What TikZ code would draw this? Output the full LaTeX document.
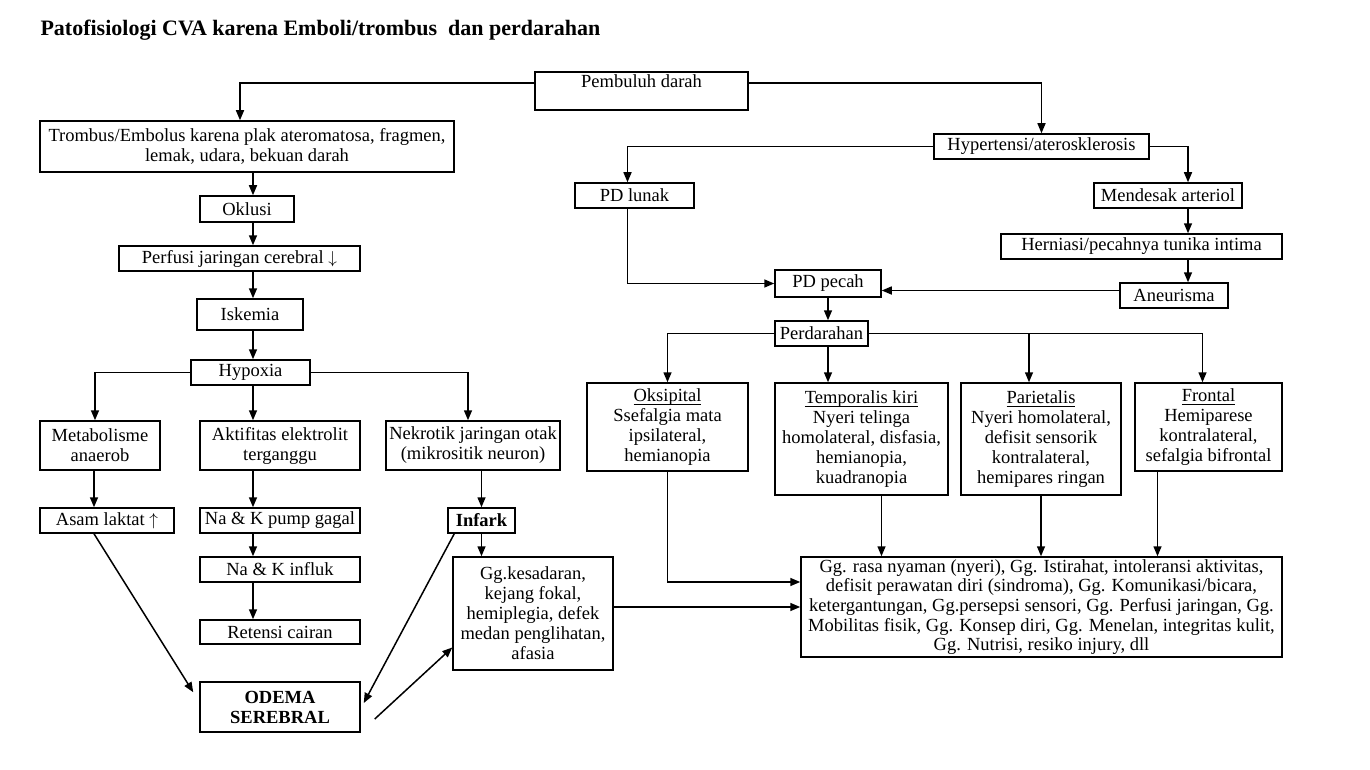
\documentclass[tikz,border=0pt]{standalone}
\usepackage{amsmath, amssymb}
\usepackage{fontspec}
\setmainfont{Liberation Serif}
\usepackage{xcolor}
\usepackage{tikz}
\usetikzlibrary{arrows.meta}
\newcommand{\subjudul}[1]{\underline{\smash{#1}}\vphantom{#1}}

\begin{document}
\begin{tikzpicture}[x=1pt, y=-1pt,
  font=\fontsize{18.5}{20}\selectfont,
  box/.style={draw, line width=1.5pt, inner sep=0pt, align=center},
  arr/.style={line width=1.5pt, -{Triangle[length=10pt,width=8pt]}}]
\useasboundingbox (0,0) rectangle (1370,770);

% Title
\node[anchor=west, font=\fontsize{22}{24}\selectfont\bfseries] (title) at (37,30)
  {Patofisiologi CVA karena Emboli/trombus\ \ dan perdarahan};

% Top
\node[box, minimum width=213, minimum height=38] (pembuluh) at (641.5,91) {Pembuluh darah\\\mbox{}};

% Emboli / trombus side
\coordinate (spine) at (253,0);
\node[box, minimum width=414, minimum height=51] (trombus) at (247,146.5)
  {Trombus/Embolus karena plak ateromatosa,\ fragmen,\\lemak, udara, bekuan darah};
\node[box, minimum width=94, minimum height=26] (oklusi) at (247,209) {Oklusi};
\node[box, minimum width=241, minimum height=25] (perfusi) at (239.5,258.5) {Perfusi jaringan cerebral $\downarrow$};
\node[box, minimum width=106, minimum height=31] (iskemia) at (250,314.5) {Iskemia};
\node[box, minimum width=119, minimum height=25] (hypoxia) at (250.5,372.5) {Hypoxia};
\node[box, minimum width=120, minimum height=49] (metab) at (100,445.5) {Metabolisme\\anaerob};
\node[box, minimum width=160, minimum height=49] (aktif) at (280,445.5) {Aktifitas elektrolit\\terganggu};
\node[box, minimum width=174, minimum height=49] (nekrotik) at (473,445.5) {Nekrotik jaringan otak\\(mikrositik neuron)};
\node[box, minimum width=134, minimum height=25] (asam) at (107,520.5) {Asam laktat $\uparrow$};
\node[box, minimum width=160, minimum height=25] (pump) at (280,520.5) {Na \& K pump gagal};
\node[box, minimum width=160, minimum height=25] (influk) at (280,569.5) {Na \& K influk};
\node[box, minimum width=160, minimum height=24] (retensi) at (280,632) {Retensi cairan};
\node[box, minimum width=67, minimum height=25, font=\fontsize{18.5}{20}\selectfont\bfseries] (infark) at (481.5,520.5) {Infark};
\node[box, minimum width=160, minimum height=113] (kesadaran) at (533,613.5)
  {Gg.kesadaran,\\kejang fokal,\\hemiplegia, defek\\medan penglihatan,\\afasia};
\node[box, minimum width=160, minimum height=50, font=\fontsize{18.5}{20}\selectfont\bfseries] (odema) at (280,707) {ODEMA\\SEREBRAL};

% Perdarahan side
\coordinate (rspine) at (1188,0);
\node[box, minimum width=215, minimum height=25] (hyper) at (1041.5,146.5) {Hypertensi/aterosklerosis};
\node[box, minimum width=119, minimum height=25] (lunak) at (634.5,195.5) {PD lunak};
\node[box, minimum width=148, minimum height=25] (mendesak) at (1168,195.5) {Mendesak arteriol};
\node[box, minimum width=281, minimum height=25] (herniasi) at (1141.5,246.5) {Herniasi/pecahnya tunika intima};
\node[box, minimum width=108, minimum height=25] (aneurisma) at (1174,295.5) {Aneurisma};
\node[box, minimum width=106, minimum height=27] (pecah) at (828,283.5) {PD pecah};
\node[box, minimum width=93, minimum height=25] (perdarahan) at (821.5,333.5) {Perdarahan};
\node[box, minimum width=161, minimum height=88] (oksipital) at (667.5,427)
  {\subjudul{Oksipital}\\Ssefalgia mata\\ipsilateral,\\hemianopia};
\node[box, minimum width=173, minimum height=112] (temporalis) at (861.5,439)
  {\subjudul{Temporalis kiri}\\Nyeri telinga\\homolateral,\ disfasia,\\hemianopia,\\kuadranopia};
\node[box, minimum width=160, minimum height=112] (parietalis) at (1041,439)
  {\subjudul{Parietalis}\\Nyeri homolateral,\\defisit sensorik\\kontralateral,\\hemipares ringan};
\node[box, minimum width=147, minimum height=88] (frontal) at (1208.5,427)
  {\subjudul{Frontal}\\Hemiparese\\kontralateral,\\sefalgia bifrontal};
\node[box, minimum width=481, minimum height=100, font=\fontsize{18.5}{19.6}\selectfont] (gg) at (1041.5,607)
  {Gg. rasa nyaman (nyeri), Gg. Istirahat, intoleransi aktivitas,\\
   defisit perawatan diri (sindroma), Gg. Komunikasi/bicara,\\
   ketergantungan,\ Gg.persepsi sensori, Gg. Perfusi jaringan, Gg.\\
   Mobilitas fisik, Gg. Konsep diri, Gg. Menelan, integritas kulit,\\
   Gg. Nutrisi, resiko injury, dll};

% Connectors, left
\draw[arr] ([yshift=8]pembuluh.west) -| ([xshift=-7]trombus.north);
\draw[arr] (trombus.south -| spine) -- (oklusi.north -| spine);
\draw[arr] (oklusi.south -| spine) -- (perfusi.north -| spine);
\draw[arr] (perfusi.south -| spine) -- (iskemia.north -| spine);
\draw[arr] (iskemia.south -| spine) -- (hypoxia.north -| spine);
\draw[arr] (hypoxia.west) -| ([xshift=-5]metab.north);
\draw[arr] (hypoxia.south -| spine) -- (aktif.north -| spine);
\draw[arr] (hypoxia.east) -| ([xshift=-5]nekrotik.north);
\draw[arr] ([xshift=-6]metab.south) -- ([xshift=-6]metab.south |- asam.north);
\draw[arr] (aktif.south -| spine) -- (pump.north -| spine);
\draw[arr] (pump.south -| spine) -- (influk.north -| spine);
\draw[arr] (influk.south -| spine) -- (retensi.north -| spine);
\draw[arr] (nekrotik.south -| infark) -- (infark.north);
\draw[arr] (infark.south) -- (infark.south |- kesadaran.north);
\draw[arr] ([xshift=-13]asam.south) -- ([xshift=-6,yshift=-11]odema.north west);
\draw[arr] ([xshift=7]infark.south west) -- ([xshift=3,yshift=4]odema.east);
\draw[arr] ([xshift=14,yshift=-12]odema.east) -- ([yshift=-34]kesadaran.west);
\draw[arr] (kesadaran.east |- gg.west) -- (gg.west);

% Connectors, right
\draw[arr] ([yshift=8]pembuluh.east) -| (hyper.north);
\draw[arr] (hyper.west) -| ([xshift=-7]lunak.north);
\draw[arr] (hyper.east) -| (mendesak.north -| rspine);
\draw[arr] (mendesak.south -| rspine) -- (herniasi.north -| rspine);
\draw[arr] (herniasi.south -| rspine) -- (aneurisma.north -| rspine);
\draw[arr] ([xshift=-7]lunak.south) |- (pecah.west);
\draw[arr] ([yshift=5]aneurisma.west) -- ([yshift=5]aneurisma.west -| pecah.east);
\draw[arr] (pecah.south) -- (pecah.south |- perdarahan.north);
\draw[arr] (perdarahan.west) -| (oksipital.north);
\draw[arr] (pecah.south |- perdarahan.south) -- (pecah.south |- temporalis.north);
\draw[arr] (perdarahan.east) -| ([xshift=-12]parietalis.north);
\draw[arr] (perdarahan.east) -| ([xshift=-6]frontal.north);
\draw[arr] (oksipital.south) |- ([yshift=25]gg.west);
\draw[arr] ([xshift=20]temporalis.south) -- ([xshift=20]temporalis.south |- gg.north);
\draw[arr] (parietalis.south) -- (parietalis.south |- gg.north);
\draw[arr] ([xshift=-51]frontal.south) -- ([xshift=-51]frontal.south |- gg.north);
\end{tikzpicture}
\end{document}
